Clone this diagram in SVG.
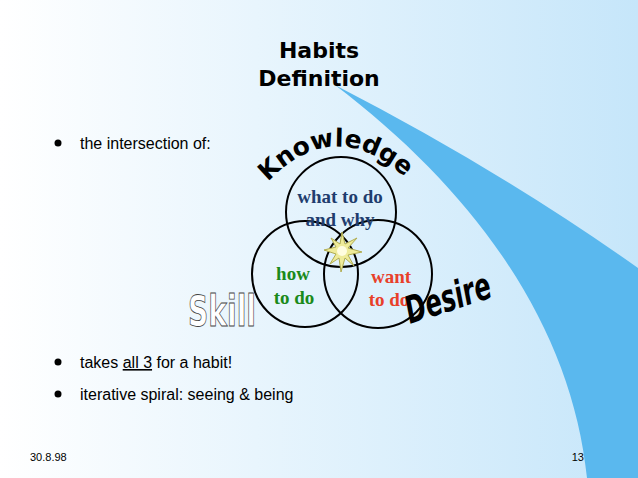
<svg xmlns="http://www.w3.org/2000/svg" width="638" height="478" viewBox="0 0 638 478">
<defs>
<linearGradient id="bg" x1="0" y1="0" x2="1" y2="0"><stop offset="0" stop-color="#ffffff"/><stop offset="1" stop-color="#c6e6fa"/></linearGradient>
<path id="arcK" d="M268,182 Q335,112 408,180"/>
<style>
.b{font-family:"Liberation Sans",Arial,sans-serif;font-size:16px;fill:#000}
.v{font-family:"Liberation Serif","Times New Roman",serif;font-weight:bold;font-size:19px;text-anchor:middle}
.c{fill:none;stroke:#000;stroke-width:2}
</style>
</defs>
<rect width="638" height="478" fill="url(#bg)"/>
<path d="M335,85 Q500,170 638,268 L638,478 L587,478 C572,330 480,195 335,85 Z" fill="#5ab8ee"/>
<g font-family="'DejaVu Sans',sans-serif" font-weight="bold" font-size="22" text-anchor="middle" fill="#000">
<text x="319" y="58">Habits</text><text x="319" y="86">Definition</text></g>
<g id="bullets">
<circle cx="58" cy="143" r="3.5" fill="#000"/><text class="b" x="80" y="149">the intersection of:</text>
<circle cx="58" cy="362" r="3.5" fill="#000"/><text class="b" x="80" y="368">takes <tspan text-decoration="underline">all 3</tspan> for a habit!</text>
<circle cx="58" cy="394" r="3.5" fill="#000"/><text class="b" x="80" y="400">iterative spiral: seeing &amp; being</text>
</g>
<g id="venn">
<circle id="k" class="c" cx="341" cy="212" r="55"/>
<circle id="s" class="c" cx="305" cy="274" r="53"/>
<circle id="d" class="c" cx="378" cy="274" r="54"/>
<polygon points="342,232 345,244 357,238 348,248 362,252 348,255 354,266 345,258 341,272 339,258 330,264 336,254 324,250 336,247 331,238 340,244" fill="#eeeb9a" stroke="#b0ac50" stroke-width="1"/>
<circle cx="342" cy="251" r="5" fill="#fffde0"/>
<text class="v" x="340" y="203" fill="#1f3d6e">what to do</text>
<text class="v" x="340" y="226" fill="#1f3d6e">and why</text>
<text class="v" x="293" y="280" fill="#1a8a1a">how</text>
<text class="v" x="294" y="304" fill="#1a8a1a">to do</text>
<text class="v" x="391" y="283" fill="#e8402a">want</text>
<text class="v" x="389" y="306" fill="#e8402a">to do</text>
</g>
<text font-family="'DejaVu Sans',sans-serif" font-weight="bold" font-size="25" fill="#000"><textPath href="#arcK">Knowledge</textPath></text>
<text x="188" y="326" font-family="'DejaVu Sans Condensed','DejaVu Sans',sans-serif" font-weight="bold" font-size="42" fill="#fff" stroke="#444" stroke-width="0.8" textLength="68" lengthAdjust="spacingAndGlyphs">Skill</text>
<text transform="translate(410,324) rotate(-18)" font-family="'DejaVu Sans',sans-serif" font-weight="bold" font-style="italic" font-size="38" fill="#000" textLength="88" lengthAdjust="spacingAndGlyphs">Desire</text>
<text x="30" y="461" font-family="'Liberation Sans',sans-serif" font-size="11">30.8.98</text>
<text x="584" y="461" text-anchor="end" font-family="'Liberation Sans',sans-serif" font-size="11">13</text>
</svg>
